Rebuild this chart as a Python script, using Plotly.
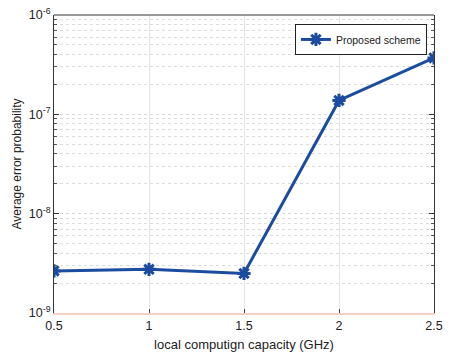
import plotly.graph_objects as go

capacity = [0.5, 1.0, 1.5, 2.0, 2.5]
error_prob = [2.65e-9, 2.75e-9, 2.5e-9, 1.38e-7, 3.7e-7]
x_ticks = [0.5, 1, 1.5, 2, 2.5]
x_tick_text = ["0.5", "1", "1.5", "2", "2.5"]
y_ticks = [1e-9, 1e-8, 1e-7, 1e-6]
y_tick_text = ["10<sup>-9</sup>", "10<sup>-8</sup>", "10<sup>-7</sup>", "10<sup>-6</sup>"]
minor_vals = [m * 10.0 ** e for e in (-9, -8, -7) for m in range(2, 10)]

blue = "#1c4c9f"
fig = go.Figure()
fig.add_trace(go.Scatter(
    x=capacity, y=error_prob, mode="lines+markers", name="Proposed scheme",
    line=dict(color=blue, width=3),
    marker=dict(symbol="asterisk-open", size=11, color=blue, line=dict(color=blue, width=3)),
))

font = "Liberation Sans, Arial, sans-serif"
fig.update_layout(
    width=474, height=354,
    margin=dict(l=54, r=40, t=15, b=41),
    paper_bgcolor="white", plot_bgcolor="white",
    font=dict(family=font, size=12, color="#222"),
    showlegend=True,
    legend=dict(x=0.634, y=0.97, xanchor="left", yanchor="top",
                bordercolor="#222", borderwidth=1, bgcolor="white",
                font=dict(size=10.5), itemwidth=30,
                tracegroupgap=0),
    xaxis=dict(
        range=[0.5, 2.5], tickvals=x_ticks, ticktext=x_tick_text,
        showgrid=True, gridcolor="#e4e4e4", gridwidth=1,
        ticks="inside", ticklen=4, tickcolor="#444",
        showline=True, linecolor="#f4cfc2", linewidth=1.5, mirror=False,
        zeroline=False, automargin=False,
        title=dict(text="local computign capacity (GHz)", font=dict(size=13), standoff=8),
        tickfont=dict(size=12.5),
    ),
    yaxis=dict(
        type="log", range=[-9, -6], tickvals=y_ticks, ticktext=y_tick_text,
        showgrid=True, gridcolor="#d8d8d8", griddash="dot", gridwidth=1,
        ticks="inside", ticklen=5, tickcolor="#333",
        showline=True, linecolor="#333", linewidth=1, mirror="ticks",
        zeroline=False, automargin=False,
        minor=dict(tickvals=minor_vals, showgrid=True, gridcolor="#dcdcdc",
                   griddash="dot", ticks="inside", ticklen=3, tickcolor="#555"),
        title=dict(text="Average error probability", font=dict(size=12), standoff=4),
        tickfont=dict(size=12.5),
    ),
    shapes=[dict(type="line", xref="paper", yref="paper", x0=0, x1=1, y0=1, y1=1,
                 line=dict(color="#333", width=1.2))],
)
fig.write_html("out.html")
